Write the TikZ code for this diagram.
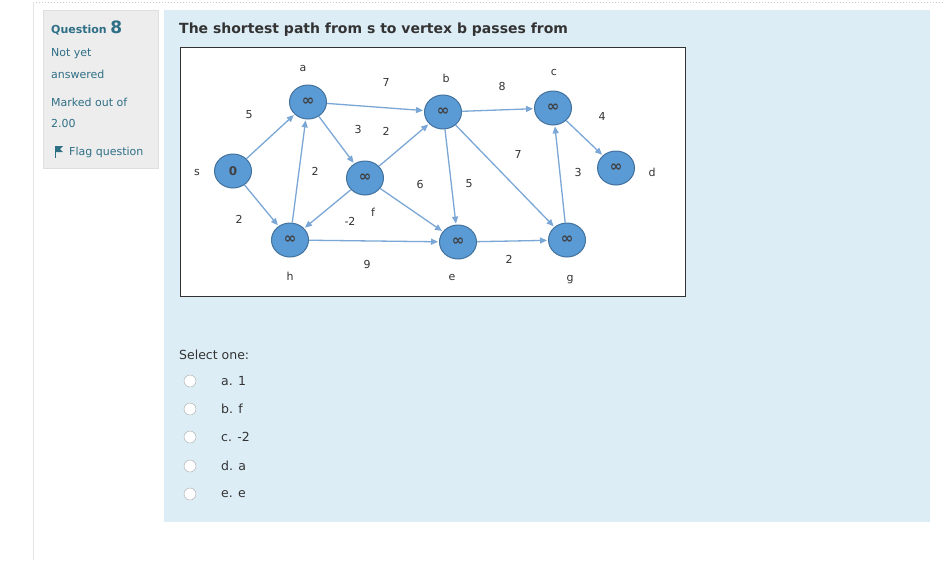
\documentclass[tikz,border=0pt]{standalone}
\usepackage{fontspec}
\setmainfont{DejaVu Sans}
\usetikzlibrary{arrows.meta,shapes.geometric}
\definecolor{nfill}{HTML}{5B9BD5}
\definecolor{nline}{HTML}{41719C}
\definecolor{edgec}{HTML}{7BA7D7}
\definecolor{panelc}{HTML}{DDEDF6}
\definecolor{sidec}{HTML}{EDEDED}
\definecolor{tealc}{HTML}{2F6F86}
\definecolor{txt}{HTML}{333333}
\begin{document}
\begin{tikzpicture}[x=1pt,y=-1pt,
 vert/.style={ellipse,draw=nline,line width=1pt,fill=nfill,minimum width=37pt,minimum height=34pt,inner sep=0pt,font=\fontsize{15}{16}\selectfont\bfseries,text=black!75},
 lbl/.style={font=\fontsize{11}{13}\selectfont,text=txt,inner sep=0pt},
 edge/.style={draw=edgec,line width=1.3pt,-{Triangle[length=7pt,width=6pt]},shorten >=1pt},
 sidet/.style={font=\fontsize{11}{13}\selectfont,text=tealc,anchor=west,inner sep=0pt},
 opt/.style={font=\fontsize{12.5}{15}\selectfont,text=txt,anchor=west,inner sep=0pt},
 radio/.style={circle,draw=gray!70,fill=white,minimum size=12pt,inner sep=0pt}]
\fill[white] (0,0) rectangle (945,560);
\useasboundingbox (0,0) rectangle (945,560);
\draw[gray!40,dotted,line width=1pt] (33,2) -- (945,2);
\draw[gray!20] (33,2) -- (33,560);
\fill[sidec] (43,10) rectangle (158,168);
\draw[gray!25] (43,10) rectangle (158,168);
\fill[panelc] (164,10) rectangle (930,522);
\node[sidet,anchor=base west] (q) at (51,33) {\textbf{Question} {\fontsize{17}{18}\selectfont\textbf{8}}};
\node[sidet] (n1) at (51,54) {Not yet};
\node[sidet] (n2) at (51,74) {answered};
\node[sidet] (m1) at (51,102) {Marked out of};
\node[sidet] (m2) at (51,123) {2.00};
\draw[tealc,line width=1pt] (55,146) -- (55,158);
\fill[tealc] (55,146) -- (63,146) -- (60,149) -- (63,152) -- (55,152) -- cycle;
\node[sidet] (fl) at (69,152) {Flag question};
\node[font=\fontsize{14}{16}\selectfont\bfseries,text=txt,anchor=west,inner sep=0pt] (title) at (179,30) {The shortest path from s to vertex b passes from};
\fill[white] (180,47) rectangle (685,296);
\draw[txt,line width=0.8pt] (180,47) rectangle (685,296);
\node[vert] (s) at (233,171) {\fontsize{12}{14}\selectfont 0};
\node[vert] (a) at (308,102) {∞};
\node[vert] (b) at (443,112) {∞};
\node[vert] (c) at (553,108) {∞};
\node[vert] (d) at (616,168) {∞};
\node[vert] (f) at (365,178) {∞};
\node[vert] (h) at (290,240) {∞};
\node[vert] (e) at (458,242) {∞};
\node[vert] (g) at (567,240) {∞};
\foreach \u/\v in {s/a,s/h,h/a,a/f,a/b,f/b,f/h,f/e,h/e,b/e,b/g,b/c,e/g,g/c,c/d}
  \draw[edge] (\u) -- (\v);
\node[lbl] (ls) at (197,172) {s};
\node[lbl] (la) at (303,68) {a};
\node[lbl] (lb) at (446,78) {b};
\node[lbl] (lc) at (554,72) {c};
\node[lbl] (ld) at (652,172) {d};
\node[lbl] (lf) at (373,212) {f};
\node[lbl] (lh) at (290,276) {h};
\node[lbl] (le) at (452,277) {e};
\node[lbl] (lg) at (570,280) {g};
\node[lbl] (w1) at (249,115) {5};
\node[lbl] (w2) at (239,219) {2};
\node[lbl] (w3) at (315,171) {2};
\node[lbl] (w4) at (386,82) {7};
\node[lbl] (w5) at (358,129) {3};
\node[lbl] (w6) at (386,131) {2};
\node[lbl] (w7) at (350,221) {-2};
\node[lbl] (w8) at (367,264) {9};
\node[lbl] (w9) at (420,184) {6};
\node[lbl] (w10) at (469,184) {5};
\node[lbl] (w11) at (502,86) {8};
\node[lbl] (w12) at (518,154) {7};
\node[lbl] (w13) at (509,259) {2};
\node[lbl] (w14) at (602,116) {4};
\node[lbl] (w15) at (578,172) {3};
\node[opt] (sel) at (179,355) {Select one:};
\node[radio] (r1) at (190,381) {};
\node[radio] (r2) at (190,409) {};
\node[radio] (r3) at (190,437) {};
\node[radio] (r4) at (190,466) {};
\node[radio] (r5) at (190,494) {};
\node[opt] (o1) at (221,381) {a. 1};
\node[opt] (o2) at (221,409) {b. f};
\node[opt] (o3) at (221,437) {c. -2};
\node[opt] (o4) at (221,466) {d. a};
\node[opt] (o5) at (221,494) {e. e};
\end{tikzpicture}
\end{document}
